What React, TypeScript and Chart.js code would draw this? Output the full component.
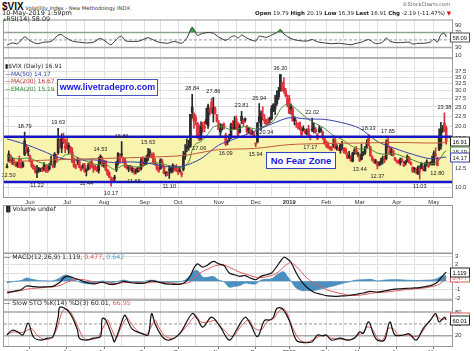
import React, { useEffect, useRef } from 'react';
import { Chart, registerables } from 'chart.js';
Chart.register(...registerables);

// ---------------- data ----------------
const monthDays = [13, 34, 55, 78, 97, 120, 141, 160, 181, 200, 221, 242];
const monthLabels = ['Jun', 'Jul', 'Aug', 'Sep', 'Oct', 'Nov', 'Dec', '2019', 'Feb', 'Mar', 'Apr', 'May'];
const midMonthDays = [1, 23, 44, 65, 87, 107, 130, 150, 169, 191, 210, 231];

const opens = [
  12.6, 13.55, 14.41, 13.58, 13.2, 12.95, 12.85, 13.8, 12.85, 12.7,
  14.6, 16.0, 15.0, 14.3, 13.6, 12.9, 12.4, 11.9, 12.4, 12.3,
  12.2, 12.3, 12.7, 12.5, 12.9, 13.4, 12.8, 12.9, 14.3, 14.9,
  17.0, 15.6, 17.9, 15.7, 16.8, 15.3, 15.8, 15.0, 13.9, 12.8,
  13.5, 13.5, 12.6, 12.6, 12.9, 12.2, 12.4, 12.8, 13.5, 12.5,
  12.7, 12.6, 12.1, 13.2, 14.0, 12.8, 13.5, 12.2, 11.8, 11.1,
  11.0, 11.1, 12.2, 13.3, 14.4, 14.5, 13.9, 13.6, 12.8, 12.4,
  12.8, 12.1, 12.3, 12.0, 12.0, 12.4, 12.4, 13.4, 13.3, 13.2,
  14.0, 14.9, 14.6, 14.7, 13.4, 13.0, 12.3, 12.4, 13.5, 12.7,
  11.8, 11.7, 12.3, 12.0, 12.3, 12.5, 12.7, 12.0, 12.2, 11.8,
  12.3, 14.2, 15.8, 15.9, 16.0, 23.5, 23.1, 22.0, 20.8, 18.2,
  17.5, 20.2, 20.0, 21.7, 20.2, 23.8, 26.3, 23.3, 24.5, 22.8,
  20.8, 18.8, 20.0, 20.5, 18.2, 16.8, 17.6, 17.6, 20.3, 19.5,
  21.8, 20.4, 18.7, 21.4, 21.6, 21.9, 20.1, 19.6, 19.4, 18.5,
  18.5, 16.4, 16.8, 22.4, 20.0, 23.0, 21.3, 20.7, 21.1, 22.0,
  21.9, 24.0, 24.4, 26.0, 28.0, 30.0, 33.0, 31.0, 29.9, 27.8,
  27.5, 24.3, 24.4, 22.0, 20.6, 19.8, 20.9, 19.4, 19.6, 19.2,
  18.5, 19.5, 17.8, 19.2, 19.6, 19.4, 18.2, 19.5, 19.1, 18.7,
  17.4, 16.7, 16.6, 15.8, 15.6, 16.2, 17.2, 15.5, 15.6, 15.2,
  16.1, 15.6, 15.5, 14.6, 14.1, 14.2, 13.5, 15.3, 15.5, 14.7,
  14.5, 13.8, 14.9, 14.8, 16.0, 17.5, 15.9, 14.2, 13.5, 13.4,
  13.4, 13.3, 13.3, 13.7, 14.0, 13.9, 17.0, 15.6, 14.6, 15.1,
  14.0, 13.5, 13.4, 13.3, 13.7, 13.4, 13.5, 13.5, 14.1, 13.3,
  12.6, 12.4, 12.2, 11.8, 12.4, 13.2, 12.6, 12.1, 13.4, 13.1,
  13.1, 13.4, 13.0, 14.6, 14.0, 17.9, 16.0, 19.5, 20.9, 19.79,
];
const highs = [
  13.12, 15.21, 14.5, 14.02, 13.9, 13.25, 13.35, 14.3, 13.85, 13.45,
  18.79, 16.3, 15.8, 14.5, 13.7, 13.0, 12.7, 12.9, 12.6, 12.5,
  12.6, 13.3, 12.9, 12.9, 13.2, 14.3, 13.1, 14.9, 14.6, 19.63,
  17.3, 18.4, 18.6, 17.3, 17.8, 16.6, 16.0, 15.7, 14.0, 13.0,
  14.1, 13.6, 12.8, 13.1, 13.2, 12.4, 13.2, 13.5, 13.6, 13.0,
  12.9, 12.7, 14.1, 14.53, 14.2, 13.6, 13.6, 12.3, 12.0, 11.3,
  11.2, 11.5, 13.5, 14.9, 14.6, 16.86, 14.1, 14.0, 13.0, 12.9,
  12.9, 12.7, 12.5, 12.4, 12.6, 12.6, 14.0, 14.2, 14.0, 14.4,
  15.63, 15.5, 14.8, 14.9, 13.9, 13.1, 12.6, 13.9, 13.8, 12.8,
  12.0, 12.0, 12.8, 12.6, 13.1, 12.9, 13.0, 12.5, 12.6, 12.0,
  15.1, 16.3, 17.4, 17.1, 23.0, 28.84, 23.4, 22.8, 21.0, 20.4,
  21.1, 21.0, 21.2, 24.6, 25.8, 24.5, 27.5, 27.86, 25.0, 23.0,
  21.4, 20.7, 20.6, 20.9, 18.6, 17.2, 18.3, 20.8, 21.4, 22.4,
  22.6, 21.0, 20.6, 23.81, 21.8, 22.1, 20.3, 19.8, 19.5, 19.2,
  18.9, 16.6, 21.0, 25.94, 23.9, 25.0, 22.9, 21.8, 22.0, 22.3,
  25.4, 26.0, 28.5, 30.0, 31.2, 36.2, 33.1, 34.8, 30.9, 28.7,
  28.5, 25.9, 24.8, 22.4, 21.6, 20.9, 21.1, 19.9, 20.2, 19.4,
  19.5, 20.3, 18.2, 22.02, 20.8, 19.8, 18.5, 20.2, 19.8, 19.0,
  17.6, 17.0, 16.8, 16.0, 16.0, 17.4, 17.6, 16.3, 15.7, 16.4,
  16.9, 15.8, 15.7, 14.9, 15.1, 14.3, 15.0, 15.6, 16.0, 15.0,
  14.6, 16.4, 15.1, 16.0, 17.2, 18.33, 16.0, 14.4, 13.9, 13.8,
  13.5, 13.4, 14.0, 14.3, 14.3, 17.2, 17.85, 16.0, 15.7, 15.4,
  14.1, 13.7, 13.7, 14.0, 14.0, 13.5, 13.6, 14.5, 14.2, 13.4,
  12.7, 12.6, 12.4, 12.8, 12.9, 13.3, 12.7, 13.3, 13.7, 13.3,
  13.4, 14.3, 15.2, 15.7, 14.1, 19.5, 21.0, 20.3, 23.38, 20.19,
];
const lows = [
  12.5, 13.4, 13.3, 13.02, 12.9, 12.7, 12.6, 12.55, 12.5, 12.6,
  14.4, 14.8, 14.4, 13.4, 12.6, 12.3, 11.8, 11.22, 11.9, 12.0,
  12.0, 12.1, 11.9, 11.9, 12.2, 13.0, 12.5, 12.6, 13.4, 14.6,
  15.8, 14.9, 16.5, 14.9, 15.5, 14.7, 14.8, 13.3, 12.6, 12.4,
  13.0, 12.5, 12.1, 12.4, 11.9, 11.44, 12.2, 12.3, 12.6, 11.9,
  12.2, 12.0, 11.8, 13.1, 12.7, 12.6, 12.1, 11.5, 11.2, 10.17,
  10.6, 10.8, 12.0, 12.9, 13.2, 14.1, 13.2, 12.6, 12.3, 12.0,
  12.2, 11.9, 11.65, 11.7, 11.9, 12.0, 12.2, 12.7, 12.9, 13.0,
  13.6, 14.1, 14.0, 13.2, 12.9, 12.2, 11.9, 12.3, 12.6, 11.7,
  11.4, 11.45, 11.1, 11.8, 11.9, 12.1, 12.0, 11.6, 11.9, 11.3,
  12.1, 13.8, 15.0, 15.3, 15.8, 22.0, 19.6, 20.4, 17.5, 17.06,
  17.2, 18.8, 18.9, 20.5, 19.6, 22.8, 23.2, 21.0, 23.0, 21.0,
  19.3, 17.9, 19.2, 19.4, 16.09, 16.3, 16.9, 17.5, 19.3, 19.4,
  19.4, 18.0, 18.6, 20.7, 20.1, 21.0, 18.5, 18.6, 18.2, 18.2,
  17.8, 15.94, 16.6, 20.9, 19.2, 21.6, 20.6, 20.34, 20.4, 20.9,
  21.6, 23.7, 22.9, 25.4, 27.2, 29.9, 30.0, 29.2, 28.0, 25.0,
  23.2, 23.0, 21.2, 20.4, 19.8, 19.4, 19.2, 18.1, 19.0, 18.4,
  18.2, 17.9, 17.17, 18.9, 18.6, 18.5, 17.2, 18.6, 18.7, 17.3,
  16.4, 15.8, 15.6, 15.3, 15.2, 15.8, 15.6, 15.3, 15.2, 14.8,
  15.4, 14.8, 14.6, 13.9, 13.9, 13.5, 13.4, 14.6, 14.6, 14.2,
  13.44, 13.7, 14.4, 14.6, 15.6, 16.0, 14.3, 13.5, 13.2, 13.1,
  12.37, 12.8, 12.9, 13.1, 13.3, 13.7, 15.7, 14.6, 14.4, 14.3,
  13.6, 13.2, 13.1, 12.9, 13.4, 12.7, 12.9, 13.4, 13.2, 12.9,
  11.9, 11.9, 11.7, 11.6, 11.03, 12.4, 12.1, 12.1, 12.8, 12.6,
  12.9, 12.9, 12.9, 14.2, 12.8, 15.2, 15.5, 18.7, 18.9, 16.39,
];
const closes = [
  12.65, 14.63, 13.42, 13.43, 13.42, 13.08, 13.22, 12.58, 12.53, 13.22,
  17.02, 14.94, 15.43, 13.46, 12.74, 12.4, 12.05, 12.13, 12.18, 12.35,
  12.34, 12.94, 12.12, 11.98, 12.31, 13.35, 12.79, 14.64, 13.77, 17.33,
  15.92, 17.91, 16.85, 16.09, 15.6, 16.14, 14.97, 13.37, 12.69, 12.64,
  13.63, 12.58, 12.18, 12.83, 12.06, 12.1, 12.87, 12.86, 12.62, 12.41,
  12.29, 12.14, 13.03, 14.26, 12.83, 13.15, 12.19, 11.64, 11.27, 10.93,
  10.85, 11.27, 13.16, 14.78, 13.31, 14.64, 13.45, 12.64, 12.49, 12.86,
  12.25, 12.41, 11.99, 12.16, 12.5, 12.25, 13.53, 12.86, 13.16, 13.91,
  14.65, 14.88, 14.16, 13.22, 13.14, 12.37, 12.07, 13.68, 12.79, 11.75,
  11.8, 11.68, 12.2, 12.42, 12.89, 12.41, 12.12, 12.0, 12.05, 11.61,
  14.22, 14.82, 15.69, 15.95, 22.96, 24.98, 21.31, 21.3, 17.62, 17.4,
  20.06, 19.89, 19.64, 20.71, 25.23, 24.22, 24.16, 24.7, 23.35, 21.23,
  19.34, 19.51, 19.96, 19.91, 16.36, 16.72, 17.36, 20.45, 20.02, 21.25,
  19.98, 18.14, 20.1, 22.48, 20.8, 21.52, 18.9, 19.02, 18.49, 18.79,
  18.07, 16.44, 20.74, 21.19, 23.23, 22.64, 21.76, 21.46, 20.65, 21.63,
  24.52, 25.58, 25.58, 28.38, 30.11, 36.07, 30.41, 29.96, 28.34, 25.42,
  23.22, 25.45, 21.38, 21.4, 20.47, 19.98, 19.5, 18.19, 19.07, 18.6,
  19.04, 18.06, 17.8, 19.52, 19.52, 18.89, 17.42, 18.87, 19.13, 17.66,
  16.57, 16.14, 15.73, 15.57, 15.38, 16.37, 15.72, 15.97, 15.43, 16.22,
  16.22, 14.91, 14.88, 14.02, 14.46, 13.51, 14.85, 15.17, 14.7, 14.78,
  13.57, 14.63, 14.74, 15.74, 16.59, 16.05, 14.33, 13.77, 13.41, 13.5,
  12.88, 13.1, 13.56, 13.91, 13.63, 16.48, 16.33, 14.68, 15.15, 14.43,
  13.71, 13.4, 13.36, 13.74, 13.58, 12.82, 13.18, 14.28, 13.3, 13.02,
  12.01, 12.32, 12.18, 12.6, 12.09, 12.42, 12.28, 13.14, 13.25, 12.73,
  13.11, 13.12, 14.8, 14.42, 12.87, 15.44, 19.32, 19.4, 19.1, 16.91,
];

const ma50Days = [0, 10, 20, 30, 40, 50, 60, 70, 80, 90, 100, 110, 120, 130, 140, 150, 160, 170, 180, 190, 200, 210, 220, 230, 240, 249];
const ma50Vals = [17.4, 16.4, 15.2, 14.0, 13.7, 13.7, 13.3, 13.4, 13.2, 12.7, 12.8, 13.9, 16.2, 17.5, 18.9, 20.6, 22.1, 21.8, 21.7, 20.9, 19.6, 16.9, 15.6, 14.6, 13.9, 14.17];
const ma200Days = [0, 25, 50, 75, 100, 110, 120, 140, 160, 180, 200, 220, 240, 249];
const ma200Vals = [13.4, 13.7, 13.9, 14.1, 14.4, 14.9, 15.4, 15.6, 16.3, 16.5, 16.6, 16.7, 16.6, 16.67];
const ema20Days = [0, 5, 10, 13, 16, 20, 24, 27, 30, 33, 36, 40, 45, 51, 56, 61, 66, 71, 76, 82, 88, 94, 99, 103, 105, 107, 110, 114, 117, 120, 124, 127, 131, 135, 140, 143, 147, 151, 155, 158, 161, 165, 170, 175, 180, 185, 190, 195, 200, 205, 210, 215, 220, 225, 230, 235, 240, 244, 246, 248, 249];
const ema20Vals = [14.4, 13.9, 13.96, 14.0, 13.6, 13.2, 12.9, 13.0, 13.8, 14.5, 14.6, 14.1, 13.5, 13.0, 13.0, 12.3, 12.9, 12.7, 12.7, 13.3, 13.1, 12.7, 12.55, 13.4, 15.3, 16.4, 16.9, 18.4, 19.9, 20.2, 19.7, 19.3, 19.5, 20.0, 19.5, 19.5, 20.4, 21.3, 24.3, 25.7, 25.5, 24.0, 22.0, 20.7, 19.6, 18.1, 17.3, 16.1, 15.5, 15.6, 14.8, 14.6, 14.7, 14.2, 13.7, 13.2, 13.1, 13.4, 14.1, 15.0, 15.19];

const zoneHigh = 17.8;
const zoneLow = 10.66;
const priceTicks = [10, 12.5, 15, 17.5, 20, 22.5, 25, 27.5, 30, 32.5, 35, 37.5];

const annDays = [0, 10, 17, 29, 45, 53, 59, 65, 72, 80, 92, 105, 109, 117, 124, 133, 141, 143, 147, 155, 172, 173, 200, 205, 210, 216, 234, 244, 248];
const annVals = [12.5, 18.79, 11.22, 19.63, 11.44, 14.53, 10.17, 16.86, 11.65, 15.63, 11.1, 28.84, 17.06, 27.86, 16.09, 23.81, 15.94, 25.94, 20.34, 36.2, 17.17, 22.02, 13.44, 18.33, 12.37, 17.85, 11.03, 12.8, 23.38];
const annSide = [-1, 1, -1, 1, -1, 1, -1, 1, -1, 1, -1, 1, -1, 1, -1, 1, -1, 1, -1, 1, -1, 1, -1, 1, -1, 1, -1, -1, 1];

const rsiDays = [0, 3, 6, 10, 13, 17, 21, 25, 29, 31, 33, 37, 41, 45, 49, 53, 57, 59, 63, 65, 67, 71, 75, 80, 83, 86, 89, 91, 95, 99, 102, 105, 108, 110, 114, 117, 120, 124, 127, 129, 131, 133, 136, 141, 143, 147, 150, 153, 155, 157, 159, 162, 166, 170, 173, 176, 180, 184, 188, 192, 195, 198, 201, 205, 208, 210, 213, 215, 217, 220, 224, 228, 230, 233, 236, 240, 242, 244, 246, 248, 249];
const rsiVals = [36, 42, 40, 58, 48, 40, 44, 46, 63, 64, 57, 47, 44, 42, 44, 54, 42, 37, 56, 60, 48, 46, 47, 56, 50, 44, 42, 41, 46, 41, 55, 84, 62, 66, 70, 68, 58, 49, 58, 61, 55, 63, 55, 47, 60, 57, 63, 70, 78, 66, 59, 52, 48, 47, 51, 45, 42, 40, 41, 39, 37, 41, 44, 51, 42, 40, 44, 55, 47, 43, 43, 44, 39, 41, 41, 44, 52, 44, 64, 67, 58.09];
const rsiTicks = [10, 30, 50, 70, 90];

const macdDays = [0, 4, 8, 11, 14, 18, 22, 26, 30, 32, 34, 38, 42, 46, 50, 54, 58, 62, 66, 70, 74, 78, 82, 86, 90, 94, 98, 101, 104, 106, 108, 111, 114, 117, 120, 123, 126, 129, 132, 135, 138, 141, 144, 147, 150, 153, 155, 157, 159, 161, 164, 167, 170, 174, 178, 182, 186, 190, 194, 198, 202, 206, 210, 214, 218, 222, 226, 230, 234, 238, 241, 244, 246, 248, 249];
const macdVals = [-1.4, -1.2, -1.0, -0.55, -0.6, -0.7, -0.65, -0.6, -0.1, 0.4, 0.64, 0.4, 0.1, -0.2, -0.3, -0.1, -0.35, -0.3, 0.0, -0.15, -0.25, -0.2, 0.05, -0.1, -0.3, -0.35, -0.35, -0.1, 0.7, 1.6, 2.1, 1.7, 2.0, 2.4, 2.1, 1.9, 1.0, 0.8, 0.6, 0.7, 0.4, 0.2, 0.6, 0.8, 1.0, 1.8, 2.4, 2.9, 2.7, 2.3, 1.0, 0.0, -0.7, -1.3, -1.55, -1.75, -1.8, -1.75, -1.7, -1.55, -1.4, -1.2, -1.3, -1.15, -1.0, -0.9, -0.85, -0.8, -0.75, -0.6, -0.45, -0.1, 0.4, 0.9, 1.119];
const signalVals = [-1.2, -1.2, -1.1, -0.95, -0.85, -0.8, -0.72, -0.66, -0.5, -0.3, -0.1, 0.2, 0.25, 0.1, -0.1, -0.15, -0.2, -0.25, -0.15, -0.12, -0.15, -0.2, -0.1, -0.1, -0.15, -0.25, -0.3, -0.25, -0.05, 0.35, 0.8, 1.2, 1.5, 1.8, 1.95, 1.95, 1.7, 1.4, 1.1, 0.9, 0.7, 0.5, 0.45, 0.55, 0.7, 1.0, 1.35, 1.75, 2.1, 2.25, 1.8, 1.1, 0.4, -0.2, -0.65, -1.05, -1.3, -1.5, -1.65, -1.7, -1.6, -1.45, -1.35, -1.3, -1.2, -1.1, -1.0, -0.92, -0.85, -0.75, -0.62, -0.45, -0.2, 0.15, 0.477];
const histVals = [-0.2, 0.0, 0.1, 0.4, 0.25, 0.1, 0.07, 0.06, 0.4, 0.7, 0.74, 0.2, -0.15, -0.3, -0.2, 0.05, -0.15, -0.05, 0.15, -0.03, -0.1, 0.0, 0.15, 0.0, -0.15, -0.1, -0.05, 0.15, 0.75, 1.25, 1.3, 0.5, 0.5, 0.6, 0.15, -0.05, -0.7, -0.6, -0.5, -0.2, -0.3, -0.3, 0.15, 0.25, 0.3, 0.8, 1.05, 1.15, 0.6, 0.05, -0.8, -1.1, -1.1, -1.1, -0.9, -0.7, -0.5, -0.25, -0.05, 0.15, 0.2, 0.25, 0.05, 0.15, 0.2, 0.2, 0.15, 0.12, 0.1, 0.15, 0.17, 0.35, 0.6, 0.75, 0.642];
const macdTicks = [3, 2, 1, 0, -1, -2];

const stoKDays = [0, 3, 6, 9, 12, 15, 19, 23, 26, 29, 30, 34, 37, 40, 41, 45, 49, 53, 54, 56, 60, 61, 66, 67, 71, 77, 80, 82, 84, 88, 92, 98, 105, 108, 111, 116, 121, 126, 130, 135, 138, 142, 146, 149, 151, 153, 156, 160, 164, 168, 173, 176, 179, 181, 184, 189, 193, 197, 200, 202, 205, 208, 210, 214, 217, 220, 225, 228, 232, 236, 240, 243, 245, 248, 249];
const stoKVals = [22, 34, 30, 22, 52, 17, 9, 14, 17, 67, 92, 86, 67, 34, 14, 9, 14, 18, 64, 60, 14, 5, 67, 72, 37, 25, 22, 76, 50, 18, 9, 26, 76, 62, 42, 67, 42, 9, 34, 67, 50, 18, 59, 60, 67, 89, 89, 59, 9, 3, 5, 22, 20, 22, 9, 14, 9, 14, 30, 26, 55, 22, 9, 9, 55, 22, 22, 25, 9, 39, 59, 76, 55, 67, 60.01];
const stoDDays = [0, 4, 8, 11, 14, 17, 21, 25, 28, 31, 33, 36, 39, 42, 44, 47, 51, 55, 57, 59, 62, 64, 68, 70, 74, 79, 82, 84, 86, 90, 95, 101, 107, 110, 114, 118, 123, 128, 132, 137, 140, 144, 148, 151, 154, 157, 159, 162, 166, 170, 175, 178, 181, 183, 187, 191, 195, 199, 202, 204, 207, 210, 213, 216, 219, 222, 227, 230, 234, 238, 242, 244, 246, 248, 249];
const stoDVals = [25, 30, 28, 33, 38, 22, 11, 14, 35, 78, 88, 80, 55, 25, 12, 11, 15, 45, 60, 40, 15, 35, 65, 55, 32, 24, 45, 60, 42, 18, 15, 40, 70, 55, 55, 58, 35, 18, 40, 60, 40, 35, 58, 63, 82, 88, 75, 40, 10, 4, 14, 20, 21, 15, 12, 11, 11, 22, 28, 42, 38, 15, 9, 38, 38, 22, 23, 18, 22, 48, 70, 68, 62, 62, 66.95];
const stoTicks = [80, 50, 20];

// ---------------- layout / style ----------------
const X_MIN = -1.7;
const X_MAX = 252.3;
const SANS = "'Liberation Sans', Arial, sans-serif";
const VER = "'DejaVu Sans', Verdana, sans-serif";
const GRID = '#e0e0e0';
const RED = '#e0303a';
const BLK = '#2a2a2a';
const ZONE_FILL = '#f8f4ae';
const BLUE = '#1616c8';
const MA50_C = '#3440a8';
const MA200_C = '#c4583a';
const EMA_C = '#4a8a3a';
const HIST_C = '#4a8fc0';
const SIG_C = '#e05a5a';

const gridDays = [...monthDays, ...midMonthDays].sort((a, b) => a - b);
const pts = (xs: number[], ys: number[]) => xs.map((x, i) => ({ x, y: ys[i] }));
const last = (a: number[]) => a[a.length - 1];

function xAxis(o: { labels?: boolean; ticks?: boolean; h: number; pad?: number }) {
  return {
    type: 'linear',
    min: X_MIN,
    max: X_MAX,
    position: 'bottom',
    offset: false,
    afterBuildTicks: (s: any) => {
      s.ticks = gridDays.map((v) => ({ value: v }));
    },
    afterFit: (s: any) => {
      s.height = o.h;
    },
    ticks: {
      display: !!o.labels,
      autoSkip: false,
      maxRotation: 0,
      minRotation: 0,
      padding: o.pad ?? 2,
      color: '#333',
      font: (c: any) => ({
        family: SANS,
        size: 5.8,
        weight: c && c.tick && c.tick.label === '2019' ? 'bold' : 'normal',
      }),
      callback: (v: any) => {
        const i = monthDays.indexOf(Number(v));
        return i >= 0 ? monthLabels[i] : '';
      },
    },
    grid: {
      offset: false,
      color: GRID,
      lineWidth: 1,
      drawTicks: !!o.ticks,
      tickLength: 3,
      tickColor: (c: any) => (c && c.tick && monthDays.includes(c.tick.value) ? '#777' : 'rgba(0,0,0,0)'),
    },
    border: { display: false },
  };
}

function yAxis(o: { type?: string; min: number; max: number; ticks: number[]; fmt: (v: number) => string; grid?: boolean }) {
  return {
    type: o.type || 'linear',
    position: 'right',
    min: o.min,
    max: o.max,
    afterBuildTicks: (s: any) => {
      s.ticks = o.ticks.map((v) => ({ value: v }));
    },
    afterFit: (s: any) => {
      s.width = 22;
    },
    ticks: {
      autoSkip: false,
      padding: 3,
      color: '#333',
      font: { family: SANS, size: 5.8 },
      callback: (v: any) => o.fmt(Number(v)),
    },
    grid: { display: !!o.grid, color: GRID, drawTicks: false },
    border: { display: false },
  };
}

const framePlugin = {
  id: 'frame',
  afterDraw(chart: any) {
    const { ctx, chartArea: a } = chart;
    ctx.save();
    ctx.strokeStyle = '#9a9a9a';
    ctx.lineWidth = 1;
    ctx.strokeRect(a.left - 0.5, a.top - 0.5, a.right - a.left + 1, a.bottom - a.top + 1);
    ctx.restore();
  },
};

function boxPlugin(items: { v: number; c: string; t: string }[]) {
  return {
    id: 'vbox',
    afterDraw(chart: any) {
      const ctx = chart.ctx;
      const ys = chart.scales.y;
      ctx.save();
      ctx.font = `5.8px ${SANS}`;
      ctx.textBaseline = 'middle';
      ctx.textAlign = 'left';
      items.forEach((it) => {
        const py = Math.round(ys.getPixelForValue(it.v)) + 0.5;
        ctx.fillStyle = '#fff';
        ctx.fillRect(450, py - 4.5, 20, 9);
        ctx.strokeStyle = it.c;
        ctx.lineWidth = 1;
        ctx.strokeRect(450.5, py - 4.5, 19, 9);
        ctx.fillStyle = it.t;
        ctx.fillText(String(it.v), 452.5, py + 0.5);
      });
      ctx.restore();
    },
  };
}

const annPlugin = {
  id: 'ann',
  afterDatasetsDraw(chart: any) {
    const ctx = chart.ctx;
    const xs = chart.scales.x;
    const ys = chart.scales.y;
    ctx.save();
    ctx.font = `5.6px ${SANS}`;
    ctx.fillStyle = '#222';
    ctx.textAlign = 'center';
    ctx.textBaseline = 'middle';
    annDays.forEach((d, i) => {
      const x = Math.max(xs.getPixelForValue(d), 8.5);
      const y = ys.getPixelForValue(annVals[i]) + (annSide[i] > 0 ? -5.5 : 7.5);
      ctx.fillText(annVals[i].toFixed(2), x, y);
    });
    ctx.restore();
  },
};

const levelLine = (v: number, color: string, width: number, dash: number[] = [], order = 10) => ({
  type: 'line',
  data: pts([X_MIN, X_MAX], [v, v]),
  borderColor: color,
  borderWidth: width,
  borderDash: dash,
  pointRadius: 0,
  fill: false,
  order,
});

const lineDs = (xs: number[], ys: number[], color: string, width = 1, order = 2, extra: any = {}) => ({
  type: 'line',
  data: pts(xs, ys),
  borderColor: color,
  borderWidth: width,
  pointRadius: 0,
  tension: 0.3,
  fill: false,
  order,
  ...extra,
});

const baseOpts = (pad: { top: number; bottom: number }) => ({
  animation: false,
  responsive: false,
  maintainAspectRatio: false,
  events: [],
  layout: { padding: { left: 4, right: 0, top: pad.top, bottom: pad.bottom } },
  plugins: { legend: { display: false }, tooltip: { enabled: false } },
});

function rsiConfig(): any {
  return {
    type: 'line',
    data: {
      datasets: [
        levelLine(70, '#a8a8a8', 1.5),
        levelLine(30, '#a8a8a8', 1.5),
        levelLine(50, '#999', 1, [3, 2]),
        lineDs(rsiDays, rsiVals, '#333', 1, 1, {
          tension: 0.25,
          fill: { target: { value: 70 }, above: 'rgba(40,150,40,0.9)', below: 'rgba(0,0,0,0)' },
        }),
      ],
    },
    options: {
      ...baseOpts({ top: 6, bottom: 6 }),
      scales: {
        x: xAxis({ h: 0 }),
        y: yAxis({ min: 3, max: 102, ticks: rsiTicks, fmt: (v) => String(v) }),
      },
    },
    plugins: [framePlugin, boxPlugin([{ v: last(rsiVals), c: '#555', t: '#222' }])],
  };
}

function priceConfig(): any {
  const days = closes.map((_, i) => i);
  const colors = closes.map((c, i) => (c < (i > 0 ? closes[i - 1] : opens[i]) ? RED : BLK));
  return {
    type: 'bar',
    data: {
      datasets: [
        { type: 'line', data: pts([X_MIN, X_MAX], [zoneHigh, zoneHigh]), borderWidth: 0, pointRadius: 0, fill: 1, backgroundColor: ZONE_FILL, order: 20 },
        { type: 'line', data: pts([X_MIN, X_MAX], [zoneLow, zoneLow]), borderWidth: 0, pointRadius: 0, fill: false, order: 21 },
        {
          type: 'bar',
          data: days.map((i) => ({ x: i, y: [lows[i], highs[i]] })),
          backgroundColor: colors,
          barThickness: 1,
          grouped: false,
          order: 6,
        },
        {
          type: 'bar',
          data: days.map((i) => ({ x: i, y: [opens[i], closes[i]] })),
          backgroundColor: colors,
          barThickness: 2,
          minBarLength: 1,
          grouped: false,
          order: 5,
        },
        lineDs(ma200Days, ma200Vals, MA200_C, 1, 3),
        lineDs(ma50Days, ma50Vals, MA50_C, 1, 3),
        lineDs(ema20Days, ema20Vals, EMA_C, 1, 3),
        levelLine(zoneHigh, BLUE, 2.5, [], 0),
        levelLine(zoneLow, BLUE, 2.5, [], 0),
      ],
    },
    options: {
      ...baseOpts({ top: 6, bottom: 0 }),
      scales: {
        x: xAxis({ labels: true, h: 9, pad: 2 }),
        y: yAxis({ type: 'logarithmic', min: 9.0, max: 43.3, ticks: priceTicks, fmt: (v) => v.toFixed(1), grid: true }),
      },
    },
    plugins: [
      framePlugin,
      annPlugin,
      boxPlugin([
        { v: last(closes), c: '#222', t: '#000' },
        { v: last(ema20Vals), c: EMA_C, t: '#222' },
        { v: last(ma50Vals), c: MA50_C, t: '#222' },
      ]),
    ],
  };
}

function volumeConfig(): any {
  return {
    type: 'line',
    data: { datasets: [] },
    options: {
      ...baseOpts({ top: 6, bottom: 6 }),
      scales: {
        x: xAxis({ h: 0 }),
        y: yAxis({ min: 0, max: 1, ticks: [], fmt: () => '' }),
      },
    },
    plugins: [framePlugin],
  };
}

function macdConfig(): any {
  return {
    type: 'line',
    data: {
      datasets: [
        lineDs(macdDays, histVals, HIST_C, 0.8, 6, { fill: 'origin', backgroundColor: HIST_C, tension: 0.3 }),
        lineDs(macdDays, signalVals, SIG_C, 1, 2),
        lineDs(macdDays, macdVals, '#111', 1.2, 1),
      ],
    },
    options: {
      ...baseOpts({ top: 6, bottom: 6 }),
      scales: {
        x: xAxis({ h: 0 }),
        y: yAxis({ min: -2.18, max: 3.35, ticks: macdTicks, fmt: (v) => String(v), grid: true }),
      },
    },
    plugins: [
      framePlugin,
      boxPlugin([
        { v: last(signalVals), c: SIG_C, t: SIG_C },
        { v: last(macdVals), c: '#222', t: '#000' },
      ]),
    ],
  };
}

function stoConfig(): any {
  return {
    type: 'line',
    data: {
      datasets: [
        levelLine(80, '#a8a8a8', 1.5),
        levelLine(20, '#a8a8a8', 1.5),
        levelLine(50, '#999', 1, [3, 2]),
        lineDs(stoDDays, stoDVals, SIG_C, 1, 2, { tension: 0.35 }),
        lineDs(stoKDays, stoKVals, '#111', 1.2, 1, { tension: 0.35 }),
      ],
    },
    options: {
      ...baseOpts({ top: 6, bottom: 0 }),
      scales: {
        x: xAxis({ labels: true, ticks: true, h: 12, pad: 0 }),
        y: yAxis({ min: -5.75, max: 109.25, ticks: stoTicks, fmt: (v) => String(v) }),
      },
    },
    plugins: [
      framePlugin,
      boxPlugin([
        { v: last(stoDVals), c: SIG_C, t: SIG_C },
        { v: last(stoKVals), c: '#222', t: '#000' },
      ]),
    ],
  };
}

const panels = [
  { key: 'rsi', top: 14, h: 50, make: rsiConfig },
  { key: 'price', top: 52, h: 154, make: priceConfig },
  { key: 'vol', top: 200, h: 59, make: volumeConfig },
  { key: 'macd', top: 247, h: 59, make: macdConfig },
  { key: 'sto', top: 294, h: 64, make: stoConfig },
];

const T = (p: any) => (
  <div
    style={{
      position: 'absolute',
      left: p.right === undefined ? p.x : undefined,
      right: p.right,
      top: p.y,
      fontSize: p.size ?? 6.3,
      lineHeight: 1,
      color: p.color ?? '#222',
      fontWeight: p.bold ? 'bold' : 'normal',
      fontFamily: p.family ?? VER,
      whiteSpace: 'nowrap',
    }}
  >
    {p.children}
  </div>
);

export default function App() {
  const refs = useRef<(HTMLCanvasElement | null)[]>([]);

  useEffect(() => {
    const charts = panels.map((p, i) => new Chart(refs.current[i] as HTMLCanvasElement, p.make()));
    return () => charts.forEach((c) => c.destroy());
  }, []);

  return (
    <div style={{ position: 'absolute', left: 0, top: 0, width: 474, height: 351, overflow: 'hidden', background: '#fff' }}>
      {panels.map((p, i) => (
        <canvas
          key={p.key}
          ref={(el) => {
            refs.current[i] = el;
          }}
          width={474}
          height={p.h}
          style={{ position: 'absolute', left: 0, top: p.top, width: 474, height: p.h, display: 'block' }}
        />
      ))}

      {/* header */}
      <div style={{ position: 'absolute', left: 2, top: 0, whiteSpace: 'nowrap', lineHeight: '10px' }}>
        <span style={{ fontFamily: SANS, fontWeight: 'bold', fontSize: 10, color: '#111' }}>$VIX</span>
        <span style={{ fontFamily: VER, fontSize: 5.2, color: '#333' }}> Volatility Index - New Methodology INDX</span>
      </div>
      <T x={2} y={10.3} size={6.5}>10-May-2019 1:59pm</T>
      <T x={3} y={15.6} size={6.4}>
        <span style={{ color: '#3a8a3a', fontWeight: 'bold' }}>▴</span>RSI(14) 58.09
      </T>
      <T right={24} y={2.2} size={5} color="#555">©StockCharts.com</T>
      <T right={23} y={11.3} size={5.5}>
        <b>Open</b> 19.79 <b>High</b> 20.19 <b>Low</b> 16.39 <b>Last</b> 16.91 <b>Chg</b> -2.19 (-11.47%) <span style={{ color: '#d01010' }}>▼</span>
      </T>

      {/* price legend */}
      <T x={5} y={63.8} size={5.9}>
        <span style={{ color: '#111' }}>▮</span>$VIX (Daily) 16.91
      </T>
      <T x={5} y={71.5} size={5.9} color={MA50_C}>—MA(50) 14.17</T>
      <T x={5} y={79.2} size={5.9} color="#c03030">—MA(200) 16.67</T>
      <T x={5} y={86.9} size={5.9} color="#2f8a2f">—EMA(20) 15.19</T>

      {/* boxes */}
      <div
        style={{
          position: 'absolute',
          left: 57,
          top: 79,
          width: 99,
          height: 15,
          border: '1px solid #4455bb',
          background: '#fff',
          color: '#1a1ae6',
          fontFamily: SANS,
          fontWeight: 'bold',
          fontSize: 9,
          lineHeight: '15px',
          textAlign: 'center',
          whiteSpace: 'nowrap',
        }}
      >
        www.livetradepro.com
      </div>
      <div
        style={{
          position: 'absolute',
          left: 266,
          top: 152,
          width: 68,
          height: 15,
          border: '1px solid #3344bb',
          background: '#fff',
          color: '#1a1ae0',
          fontFamily: SANS,
          fontWeight: 'bold',
          fontSize: 9.5,
          lineHeight: '15px',
          textAlign: 'center',
          whiteSpace: 'nowrap',
        }}
      >
        No Fear Zone
      </div>

      {/* lower panel labels */}
      <T x={4} y={206.3} size={6.3}>
        <span style={{ fontSize: 5.5 }}>▐▌</span>Volume undef
      </T>
      <T x={4} y={254} size={6.3}>
        — MACD(12,26,9) 1.119, <span style={{ color: SIG_C }}>0.477</span>, <span style={{ color: '#5a9ac8' }}>0.642</span>
      </T>
      <T x={4} y={300.4} size={6.3}>
        — Slow STO %K(14) %D(3) 60.01, <span style={{ color: SIG_C }}>66.95</span>
      </T>
    </div>
  );
}
